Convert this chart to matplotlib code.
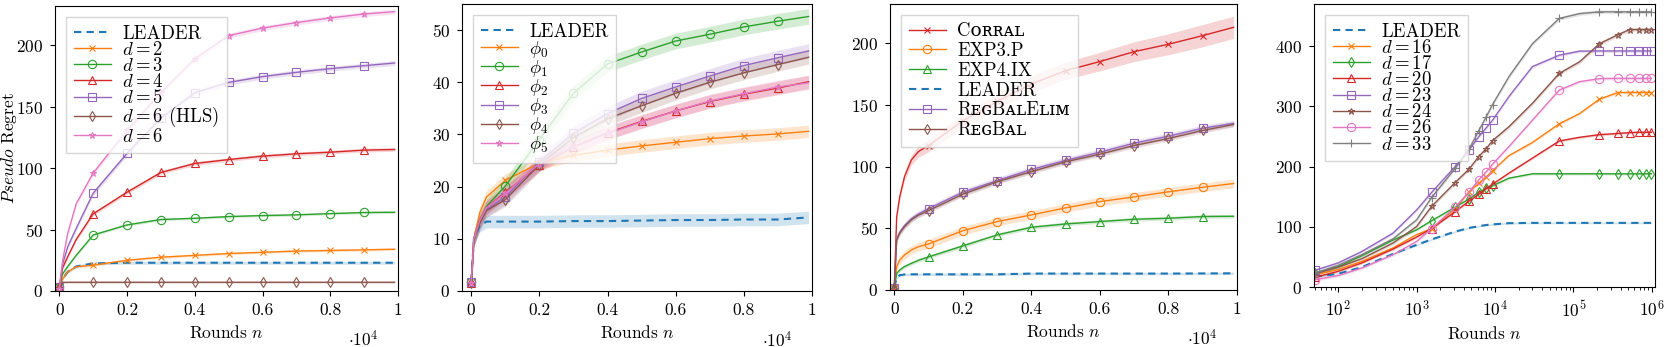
import matplotlib.pyplot as plt
import numpy as np
from matplotlib.ticker import FuncFormatter

# ---- panel 1: LEADER vs d
x1 = [0, 100, 250, 500, 1000, 2000, 3000, 4000, 5000, 6000, 7000, 8000, 9000, 9900]
p1_leader = [3, 10, 15.7, 20, 22.5, 23, 23, 23, 23, 23, 23, 23, 23, 23]
p1_d2 = [3, 10, 15.7, 19.8, 21, 25, 27.5, 29, 30.5, 31.5, 32.5, 33, 33.5, 34]
p1_d3 = [3, 14, 20, 29, 45.6, 53.8, 58.2, 59.2, 60.6, 61.4, 62, 63, 63.9, 64.1]
p1_d4 = [3, 19, 28, 42, 62.8, 80.4, 96.5, 103.8, 107, 109.8, 111.7, 113, 114.7, 115.2]
p1_d5 = [3, 22, 36, 51, 79.6, 112, 140.8, 161.4, 169.8, 174.5, 178, 181, 183.4, 185.6]
p1_d6hls = [3, 7, 7.1, 7.1, 7.1, 7.1, 7.1, 7.1, 7.1, 7.1, 7.1, 7.1, 7.1, 7.1]
p1_d6 = [2, 25, 47, 71, 96, 130.7, 161.7, 188.9, 207.9, 214, 218.5, 222.3, 225.5, 227.4]
marks1 = [0, 4, 5, 6, 7, 8, 9, 10, 11, 12]

# ---- panel 2: LEADER vs phi
x2 = [0, 80, 250, 450, 1000, 2000, 3000, 4000, 5000, 6000, 7000, 8000, 9000, 9900]
p2_leader = [1.8, 10, 12.5, 13.3, 13.3, 13.3, 13.4, 13.4, 13.5, 13.6, 13.6, 13.7, 13.7, 14.1]
p2_phi0 = [1.5, 10, 15, 18, 21.2, 24.5, 26, 27, 27.8, 28.5, 29.2, 29.7, 30.1, 30.6]
p2_phi1 = [1.8, 10, 13.5, 16.2, 20.1, 29, 37.9, 43.5, 45.8, 47.9, 49.2, 50.6, 51.7, 52.6]
p2_phi2 = [1.5, 10, 13.5, 16, 18.9, 24.1, 27.6, 30.3, 32.5, 34.5, 36.3, 37.7, 38.9, 40.1]
p2_phi3 = [1.8, 10, 13, 15.6, 18, 24.7, 30.2, 34, 36.9, 39.1, 41.2, 43.2, 44.7, 46]
p2_phi4 = [1.5, 10, 13, 15.4, 17.5, 24.2, 29.4, 33, 35.5, 37.9, 40, 41.8, 43.4, 44.8]
p2_phi5 = [1.5, 10, 13.5, 16, 18.7, 24.4, 27.6, 30.2, 32.4, 34.5, 36.4, 37.8, 39.1, 39.9]
marks2 = [0, 4, 5, 6, 7, 8, 9, 10, 11, 12]

# ---- panel 3: baselines
x3 = [0, 70, 160, 300, 500, 700, 1000, 2000, 3000, 4000, 5000, 6000, 7000, 8000, 9000, 9900]
p3_corral = [2, 59.5, 75.7, 92, 105.4, 112, 117, 137, 152.7, 166.8, 177.6, 185, 193, 199, 206, 212.7]
p3_corral_band = [0, 2, 3, 3.5, 4, 4.5, 5, 5.5, 6, 6.5, 7, 7.5, 8, 8.5, 9, 9]
p3_exp3p = [2, 19, 24.3, 28.4, 32.4, 35, 37.3, 48, 55.4, 60.8, 66.5, 71.6, 75.4, 79.5, 83.2, 86.2]
p3_exp4ix = [2, 13.5, 16.2, 19, 21.6, 24, 26.8, 35.7, 44.6, 50.8, 53.5, 55.4, 57.3, 58.1, 59.5, 59.7]
p3_leader = [2, 10, 12, 12.6, 12.7, 12.7, 12.7, 12.7, 12.7, 13.3, 13.3, 13.3, 13.3, 13.3, 13.4, 13.5]
p3_regbalelim = [2, 41.5, 47, 52.3, 57.8, 61.5, 65.9, 79.2, 88.6, 97.6, 105, 111.6, 118.9, 124.6, 131, 135]
p3_regbal = [2, 40.5, 46, 51.3, 56.8, 60.5, 64.3, 77.6, 87.6, 95.9, 103.8, 110, 117, 122.7, 129.2, 134]
marks3 = [0, 6, 7, 8, 9, 10, 11, 12, 13, 14]

# ---- panel 4: large d, log scale
x4 = [50, 100, 200, 500, 1000, 1550, 3100, 4650, 6200, 7750, 9300, 15000, 30000,
      66000, 120000, 215000, 370000, 525000, 680000, 835000, 990000]
p4_leader = [17, 22, 33, 55, 70, 79, 92, 98, 101, 103, 104, 106, 106.5,
             106.5, 106.5, 106.5, 106.5, 106.5, 106.5, 106.5, 106.5]
p4_d16 = [20, 29, 42.5, 65, 87, 97, 130, 158, 172, 183, 193, 218, 240,
          271, 288, 312, 323, 323, 323, 323, 323]
p4_d17 = [23, 34, 52, 78, 95, 110, 132.6, 146, 157.5, 164, 168, 180.7, 188,
          188, 188, 188, 188, 188, 188, 188, 188]
p4_d20 = [16, 26, 40, 63, 83, 97, 125, 142.5, 154, 163.5, 170.7, 189, 214,
          242.5, 248.6, 253, 255, 256.4, 257, 257, 257]
p4_d23 = [27.6, 40, 59, 89.5, 128, 157, 200, 227.6, 249.7, 264.6, 277, 316, 366,
          385, 391.7, 392, 392, 392, 392, 392, 392]
p4_d24 = [22, 32.6, 47, 73, 100.5, 133.7, 173.5, 195.6, 216.6, 230, 243, 266, 305,
          354.7, 374, 404, 419, 427.6, 427.6, 427.6, 427.6]
p4_d26 = [12, 19, 31.5, 53.6, 75.7, 97, 132.6, 157.5, 178, 191.7, 204, 233, 277,
          327, 341, 346, 346.4, 346.4, 346.4, 346.4, 346.4]
p4_d33 = [23, 36, 53.6, 80, 111.6, 148.6, 197, 228.7, 259.7, 283, 303, 349, 404,
          446, 454, 457, 457, 457, 457, 457, 457]
marks4 = [0, 5, 6, 7, 8, 9, 10, 13, 15, 16, 17, 18, 19, 20]

plt.rcParams['font.family'] = ['cmr10', 'DejaVu Serif']
plt.rcParams['mathtext.fontset'] = 'cm'
plt.rcParams['axes.formatter.use_mathtext'] = True
plt.rcParams['axes.unicode_minus'] = False
plt.rcParams['font.size'] = 12.5
plt.rcParams['xtick.major.pad'] = 5
plt.rcParams['ytick.major.pad'] = 5

C = plt.rcParams['axes.prop_cycle'].by_key()['color']
blue, orange, green, red, purple, brown, pink, gray = C[:8]

msize = {'x': 4, '+': 6, '*': 5, 'o': 6, 's': 6, '^': 5.5, 'd': 5}


def curve(ax, x, y, band, color, marker, label, marks, dashed=False):
    x = np.asarray(x, float)
    y = np.asarray(y, float)
    band = np.asarray(band, float)
    ax.fill_between(x, y - band, y + band, color=color, alpha=0.2, lw=0)
    if dashed:
        ax.plot(x, y, ls=(0, (3.5, 2.5)), color=color, lw=1.5, label=label)
    else:
        ax.plot(x, y, color=color, lw=1.0, marker=marker, ms=msize[marker],
                mfc='none', mew=0.8, markevery=marks, label=label)


def finish(ax, xl, yl, rounds=True, spacing=-0.1):
    ax.set_xlim(*xl)
    ax.set_ylim(*yl)
    ax.set_xlabel(r'Rounds $n$', labelpad=4)
    if rounds:
        ax.xaxis.set_major_formatter(FuncFormatter(lambda v, p: f'{v / 1e4:g}'))
        ax.set_xticks([0, 2000, 4000, 6000, 8000, 10000])
        ax.text(0.9, -0.17, r'$\cdot 10^4$', transform=ax.transAxes,
                ha='center', va='center')
    ax.legend(loc='upper left', fancybox=False, edgecolor='0.8', framealpha=0.8,
              fontsize=13.5, borderaxespad=0.6, labelspacing=spacing,
              handlelength=2.0, handletextpad=0.6, borderpad=0.4)


fig = plt.figure(figsize=(16.66, 3.47), dpi=100)
ax1 = fig.add_axes([0.0330, 0.1614, 0.2059, 0.8213])
ax2 = fig.add_axes([0.2773, 0.1614, 0.2101, 0.8271])
ax3 = fig.add_axes([0.5342, 0.1643, 0.2083, 0.8256])
ax4 = fig.add_axes([0.7887, 0.1729, 0.2047, 0.8156])

curve(ax1, x1, p1_leader, 1.2, blue, None, 'LEADER', marks1, dashed=True)
curve(ax1, x1, p1_d2, 1.0, orange, 'x', r'$d = 2$', marks1)
curve(ax1, x1, p1_d3, 1.0, green, 'o', r'$d = 3$', marks1)
curve(ax1, x1, p1_d4, 1.5, red, '^', r'$d = 4$', marks1)
curve(ax1, x1, p1_d5, 2.0, purple, 's', r'$d = 5$', marks1)
curve(ax1, x1, p1_d6hls, 0.8, brown, 'd', r'$d = 6$ (HLS)', marks1)
curve(ax1, x1, p1_d6, 2.0, pink, '*', r'$d = 6$', marks1)
ax1.set_ylabel(r'$Pseudo$ Regret', labelpad=-2)
finish(ax1, (-127, 10000), (0, 232))

curve(ax2, x2, p2_leader, 1.2, blue, None, 'LEADER', marks2, dashed=True)
curve(ax2, x2, p2_phi0, 1.2, orange, 'x', r'$\phi_0$', marks2)
curve(ax2, x2, p2_phi1, 1.5, green, 'o', r'$\phi_1$', marks2)
curve(ax2, x2, p2_phi2, 1.3, red, '^', r'$\phi_2$', marks2)
curve(ax2, x2, p2_phi3, 1.4, purple, 's', r'$\phi_3$', marks2)
curve(ax2, x2, p2_phi4, 1.3, brown, 'd', r'$\phi_4$', marks2)
curve(ax2, x2, p2_phi5, 1.3, pink, '*', r'$\phi_5$', marks2)
finish(ax2, (-270, 10000), (0, 55))

curve(ax3, x3, p3_corral, p3_corral_band, red, 'x', 'Cᴏʀʀᴀʟ', marks3)
curve(ax3, x3, p3_exp3p, 3.5, orange, 'o', 'EXP3.P', marks3)
curve(ax3, x3, p3_exp4ix, 1.5, green, '^', 'EXP4.IX', marks3)
curve(ax3, x3, p3_leader, 1.0, blue, None, 'LEADER', marks3, dashed=True)
curve(ax3, x3, p3_regbalelim, 2.5, purple, 's', 'RᴇɢBᴀʟEʟɪᴍ', marks3)
curve(ax3, x3, p3_regbal, 2.0, brown, 'd', 'RᴇɢBᴀʟ', marks3)
finish(ax3, (-126, 10000), (0, 232), spacing=0.1)

curve(ax4, x4, p4_leader, 1.5, blue, None, 'LEADER', marks4, dashed=True)
curve(ax4, x4, p4_d16, 2.0, orange, 'x', r'$d = 16$', marks4)
curve(ax4, x4, p4_d17, 2.0, green, 'd', r'$d = 17$', marks4)
curve(ax4, x4, p4_d20, 2.0, red, '^', r'$d = 20$', marks4)
curve(ax4, x4, p4_d23, 2.5, purple, 's', r'$d = 23$', marks4)
curve(ax4, x4, p4_d24, 3.0, brown, '*', r'$d = 24$', marks4)
curve(ax4, x4, p4_d26, 2.5, pink, 'o', r'$d = 26$', marks4)
curve(ax4, x4, p4_d33, 3.0, gray, '+', r'$d = 33$', marks4)
ax4.set_xscale('log')
finish(ax4, (49, 1.1e6), (0, 470), rounds=False)

fig.savefig('out.png', dpi=100)
